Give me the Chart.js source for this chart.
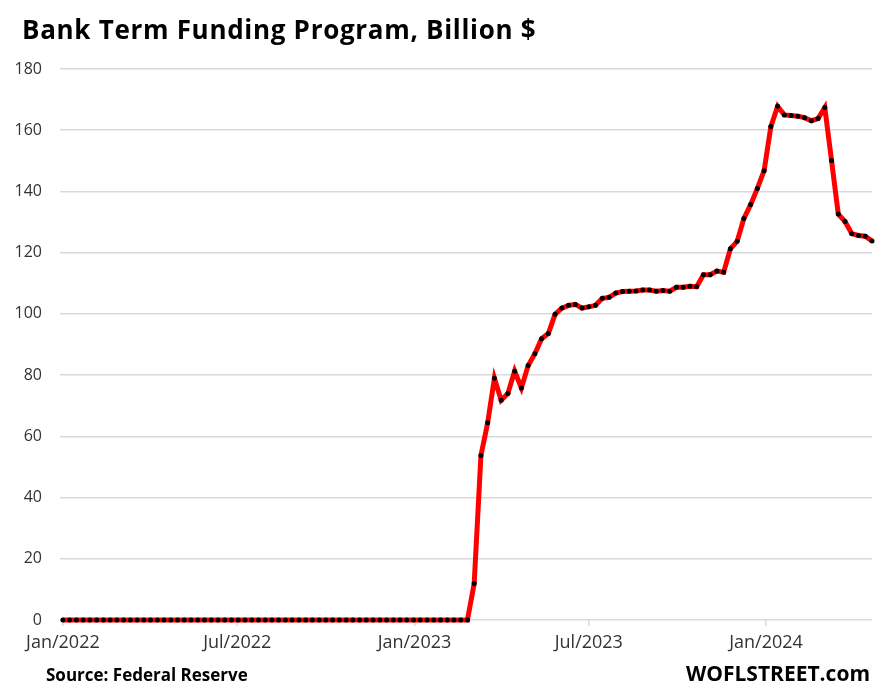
<!DOCTYPE html>
<html>
<head>
<meta charset="utf-8">
<title>Bank Term Funding Program</title>
<script src="https://cdn.jsdelivr.net/npm/chart.js@4.4.1/dist/chart.umd.min.js"></script>
<style>
  body { margin: 0; background: #fff; }
  #wrap { width: 882px; height: 699px; position: relative; }
</style>
</head>
<body>
<div id="wrap"><canvas id="btfpChart"></canvas></div>
<script>
// weekly (Wednesday) balances, billion $
const startDate = '2022-01-05';
const btfpValues = [
  0, 0, 0, 0, 0, 0, 0, 0, 0, 0,
  0, 0, 0, 0, 0, 0, 0, 0, 0, 0,
  0, 0, 0, 0, 0, 0, 0, 0, 0, 0,
  0, 0, 0, 0, 0, 0, 0, 0, 0, 0,
  0, 0, 0, 0, 0, 0, 0, 0, 0, 0,
  0, 0, 0, 0, 0, 0, 0, 0, 0, 0,
  0,
  11.9, 53.7, 64.4, 79.0, 71.8, 74.0, 81.3, 75.8, 83.1, 87.0,
  91.9, 93.6, 99.9, 101.9, 102.8, 103.1, 101.9, 102.3, 102.8, 105.1,
  105.4, 106.8, 107.3, 107.4, 107.5, 107.8, 107.8, 107.4, 107.6, 107.4,
  108.7, 108.7, 109.0, 108.9, 112.8, 112.8, 114.0, 113.6, 121.3, 123.7,
  131.2, 135.7, 141.0, 146.8, 161.2, 167.8, 165.0, 164.8, 164.6, 164.1,
  163.1, 163.8, 167.4, 150.1, 132.6, 130.2, 126.2, 125.6, 125.4, 123.8
];
const tickDates = ['2022-01-05', '2022-07-05', '2023-01-05', '2023-07-05', '2024-01-05'];
const tickLabels = ['Jan/2022', 'Jul/2022', 'Jan/2023', 'Jul/2023', 'Jan/2024'];
const yTicks = [0, 20, 40, 60, 80, 100, 120, 140, 160, 180];

const DAY = 86400000;
const t0 = Date.parse(startDate);
const dayOf = d => Math.round((Date.parse(d) - t0) / DAY);
const tickDays = tickDates.map(dayOf);
const points = btfpValues.map((v, i) => ({ x: i * 7, y: v }));

// title + footer texts, drawn straight on the canvas
const textPlugin = {
  id: 'texts',
  afterDraw(chart) {
    const ctx = chart.ctx;
    ctx.save();
    ctx.fillStyle = '#000';
    ctx.textBaseline = 'alphabetic';
    ctx.textAlign = 'left';
    ctx.font = 'bold 26px "Open Sans"';
    ctx.letterSpacing = '0.7px';
    ctx.fillText('Bank Term Funding Program, Billion $', 22, 39);
    ctx.letterSpacing = '0px';
    ctx.textBaseline = 'middle';
    ctx.font = 'bold 17px "Open Sans"';
    ctx.fillText('Source: Federal Reserve', 46, 676);
    ctx.textAlign = 'right';
    ctx.font = 'bold 21px "Open Sans"';
    ctx.fillText('WOFLSTREET.com', 870, 675);
    ctx.restore();
  }
};

new Chart(document.getElementById('btfpChart'), {
  type: 'line',
  data: {
    datasets: [{
      data: points,
      borderColor: '#ff0000',
      borderWidth: 5,
      pointRadius: 2.5,
      pointBackgroundColor: '#000',
      pointBorderColor: '#000',
      pointBorderWidth: 0,
      tension: 0,
      clip: false
    }]
  },
  options: {
    responsive: true,
    maintainAspectRatio: false,
    animation: false,
    layout: { padding: { top: 69, right: 10, left: 0, bottom: 0 } },
    plugins: {
      legend: { display: false },
      tooltip: { enabled: false }
    },
    scales: {
      x: {
        type: 'linear',
        min: -3,
        max: (btfpValues.length - 1) * 7,
        afterBuildTicks(scale) {
          scale.ticks = tickDays.map(v => ({ value: v }));
        },
        afterFit(scale) { scale.height = 79; },
        border: { display: false },
        grid: {
          drawOnChartArea: false,
          drawTicks: true,
          tickLength: 6,
          color: '#d9d9d9',
          lineWidth: 1.5
        },
        ticks: {
          autoSkip: false,
          maxRotation: 0,
          padding: 6,
          color: '#333',
          font: { family: '"Open Sans"', size: 18 },
          callback: (v, i) => tickLabels[i]
        }
      },
      y: {
        min: 0,
        max: 180,
        afterBuildTicks(scale) {
          scale.ticks = yTicks.map(v => ({ value: v }));
        },
        afterFit(scale) { scale.width = 60; },
        border: { display: false },
        grid: {
          drawTicks: false,
          color: '#d9d9d9',
          lineWidth: 1.5
        },
        ticks: {
          padding: 18,
          color: '#333',
          font: { family: '"Open Sans"', size: 16 }
        }
      }
    }
  },
  plugins: [textPlugin]
});
</script>
</body>
</html>
